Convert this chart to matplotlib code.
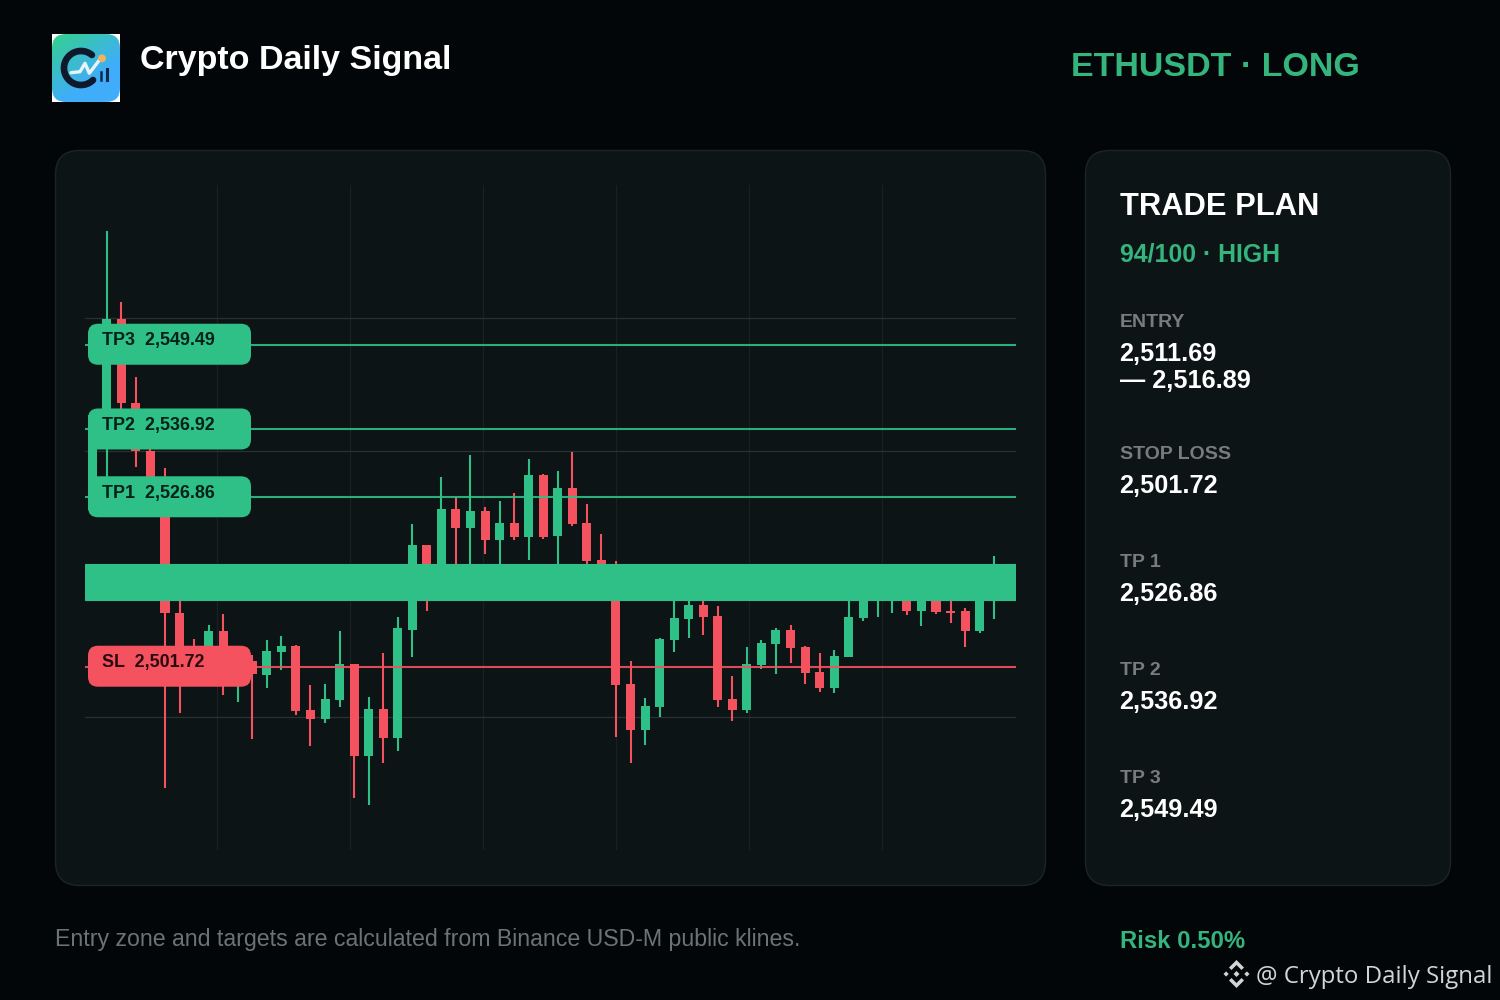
import numpy as np
import matplotlib
matplotlib.use("Agg")
import matplotlib.pyplot as plt
from matplotlib.patches import FancyBboxPatch, Polygon, Circle, Rectangle

plt.rcParams['font.family'] = ['Liberation Sans', 'DejaVu Sans']

# candles
opens = [2525.01, 2537.62, 2553.35, 2540.88, 2533.76, 2527.98, 2509.73, 2504.24, 2503.50, 2507.06,
         2500.53, 2502.61, 2500.53, 2503.95, 2504.84, 2495.34, 2494.01, 2496.82, 2502.17, 2488.52,
         2495.49, 2491.19, 2507.21, 2519.82, 2515.37, 2525.16, 2522.34, 2524.86, 2520.56, 2523.08,
         2521.01, 2530.20, 2521.15, 2528.27, 2523.08, 2517.59, 2514.63, 2499.20, 2492.37, 2495.79,
         2505.73, 2508.84, 2510.92, 2509.29, 2496.97, 2495.34, 2502.02, 2505.13, 2507.21, 2504.69,
         2500.98, 2498.60, 2503.20, 2508.99, 2512.40, 2512.85, 2513.14, 2510.03, 2513.88, 2510.03,
         2510.03, 2507.06, 2513.14]
highs = [2539.55, 2566.40, 2555.87, 2544.74, 2534.65, 2531.24, 2513.14, 2505.87, 2507.95, 2509.58,
         2504.24, 2503.50, 2505.73, 2506.32, 2504.98, 2499.05, 2499.20, 2507.06, 2502.17, 2497.27,
         2503.80, 2509.14, 2522.93, 2519.82, 2529.91, 2526.94, 2533.17, 2525.46, 2526.35, 2527.53,
         2532.58, 2530.35, 2530.80, 2533.62, 2525.90, 2521.45, 2517.45, 2502.61, 2497.12, 2506.02,
         2513.14, 2511.96, 2512.25, 2510.77, 2500.38, 2504.69, 2505.73, 2507.51, 2507.95, 2504.84,
         2503.80, 2504.24, 2513.14, 2514.63, 2515.81, 2515.37, 2513.88, 2514.92, 2514.63, 2513.14,
         2510.47, 2513.88, 2518.19]
lows = [2524.71, 2526.49, 2538.36, 2531.39, 2525.01, 2483.77, 2494.90, 2499.79, 2502.02, 2497.57,
        2496.53, 2491.04, 2498.60, 2501.27, 2494.60, 2490.00, 2493.41, 2495.79, 2482.29, 2481.25,
        2487.48, 2489.26, 2503.20, 2510.03, 2513.14, 2516.11, 2516.41, 2518.48, 2516.70, 2520.56,
        2517.59, 2520.71, 2516.11, 2522.64, 2517.00, 2515.81, 2491.34, 2487.48, 2490.15, 2494.30,
        2503.95, 2506.02, 2506.47, 2495.79, 2493.71, 2494.90, 2501.42, 2500.68, 2502.31, 2499.20,
        2498.01, 2497.86, 2503.20, 2508.54, 2509.14, 2509.73, 2509.43, 2507.80, 2509.58, 2508.25,
        2504.69, 2506.76, 2508.84]
closes = [2539.10, 2553.35, 2540.88, 2533.76, 2527.98, 2509.73, 2502.76, 2502.02, 2507.06, 2502.02,
          2503.50, 2500.68, 2504.09, 2504.84, 2495.19, 2494.01, 2496.97, 2502.17, 2488.52, 2495.49,
          2491.19, 2507.51, 2519.82, 2513.14, 2525.16, 2522.34, 2524.86, 2520.56, 2523.08, 2521.01,
          2530.20, 2521.01, 2528.27, 2522.93, 2517.45, 2516.41, 2499.05, 2492.37, 2495.93, 2505.87,
          2508.99, 2510.92, 2509.14, 2496.82, 2495.34, 2502.17, 2505.28, 2507.21, 2504.54, 2500.83,
          2498.60, 2503.35, 2509.14, 2513.88, 2514.63, 2514.33, 2510.03, 2513.88, 2509.88, 2509.73,
          2507.06, 2513.14, 2516.11]

entry_low = 2511.69
entry_high = 2516.89
stop_loss = 2501.72
tp1 = 2526.86
tp2 = 2536.92
tp3 = 2549.49
price_grid = [2553.5, 2533.8, 2514.0, 2494.3]
time_grid = [8.60, 17.74, 26.88, 36.02, 45.14, 54.28]
n_slots = 64

plan_labels = ["ENTRY", "STOP LOSS", "TP 1", "TP 2", "TP 3"]
plan_values = ["2,511.69\n— 2,516.89", "2,501.72", "2,526.86", "2,536.92", "2,549.49"]

BG = "#030608"
PANEL = "#0d1415"
EDGE = "#1c2526"
GREEN = "#2ec086"
TEXT_GREEN = "#35b57e"
RED = "#f4525f"
GREY = "#777c7c"

fig = plt.figure(figsize=(15, 10), dpi=100, facecolor=BG)

# pixel-coordinate layer for panels and text
bg = fig.add_axes([0, 0, 1, 1], zorder=0)
top = fig.add_axes([0, 0, 1, 1], zorder=2)
for a in (bg, top):
    a.set_xlim(0, 1500)
    a.set_ylim(1000, 0)
    a.axis("off")
    a.patch.set_alpha(0)


def rounded(a, x0, y0, x1, y1, r, color, edge="none", lw=0, z=1):
    p = FancyBboxPatch((x0 + r, y0 + r), x1 - x0 - 2 * r, y1 - y0 - 2 * r,
                       boxstyle="round,pad=%f,rounding_size=%f" % (r, r),
                       facecolor=color, edgecolor=edge, linewidth=lw, zorder=z)
    a.add_patch(p)
    return p


rounded(bg, 55.5, 150.5, 1045.5, 885.5, 24, PANEL, EDGE, 1.0)
rounded(bg, 1085.5, 150.5, 1450.5, 885.5, 24, PANEL, EDGE, 1.0)

# chart
CH_L, CH_R, CH_T, CH_B = 85, 1016, 185, 850
y_max = 2573.19
y_min = 2474.53
ax = fig.add_axes([CH_L / 1500, 1 - CH_B / 1000, (CH_R - CH_L) / 1500, (CH_B - CH_T) / 1000], zorder=1)
ax.patch.set_alpha(0)
ax.set_xlim(-0.5, n_slots - 0.5)
ax.set_ylim(y_min, y_max)
ax.axis("off")

for t in time_grid:
    ax.axvline(t, color="#192122", lw=0.9, zorder=1)
for p in price_grid:
    ax.axhline(p, color="#2a3132", lw=0.9, zorder=1)

for i in range(len(opens)):
    c = GREEN if closes[i] >= opens[i] else RED
    ax.vlines(i, lows[i], highs[i], color=c, lw=1.5, zorder=2)
    ax.bar(i, abs(closes[i] - opens[i]), bottom=min(opens[i], closes[i]), width=0.62, color=c, zorder=3)

ax.axhspan(entry_low, entry_high, facecolor=GREEN, edgecolor=GREEN, lw=0.8, zorder=4)
for level, c in [(tp3, GREEN), (tp2, GREEN), (tp1, GREEN), (stop_loss, RED)]:
    ax.axhline(level, color=c, lw=1.5, alpha=0.9, zorder=5)


def price_y(p):
    return CH_T + (y_max - p) / (y_max - y_min) * (CH_B - CH_T)


# level tags
for name, level, c, tc in [("TP3", tp3, GREEN, "#06201a"), ("TP2", tp2, GREEN, "#06201a"),
                           ("TP1", tp1, GREEN, "#06201a"), ("SL", stop_loss, RED, "#2a0a10")]:
    y = price_y(level)
    rounded(top, 88, y - 21, 251, y + 20, 10, c, z=3)
    top.text(102, y - 4, "%s  %s" % (name, format(level, ",.2f")), color=tc, fontsize=12.85,
             fontweight="bold", va="center", ha="left", zorder=4)

# header
top.text(140, 60.5, "Crypto Daily Signal", color="white", fontsize=24.45, fontweight="bold", va="center")
top.text(1071, 67, "ETHUSDT · LONG", color=TEXT_GREEN, fontsize=24.5, fontweight="bold", va="center")

# logo
top.add_patch(Rectangle((52, 34), 68, 68, facecolor="white", zorder=1))
xx, yy = np.meshgrid(np.linspace(0, 1, 68), np.linspace(0, 1, 68))
mix = np.clip((xx * 0.7 + yy) / 1.1, 0, 1)[..., None]
grad = (1 - mix) * np.array([0.2, 0.82, 0.55]) + mix * np.array([0.25, 0.68, 0.98])
im = top.imshow(grad, extent=(52, 120, 102, 34), zorder=2, aspect="auto")
clip = rounded(top, 52, 34, 120, 102, 14, "none", z=2)
im.set_clip_path(clip)
top.set_xlim(0, 1500)
top.set_ylim(1000, 0)
t = np.radians(np.linspace(50, 315, 60))
top.plot(81 + 17 * np.cos(t), 68 - 17 * np.sin(t), color="#0e1a2c", lw=4.8, zorder=3, solid_capstyle="round")
top.plot([71, 80, 85, 89.3, 100.7], [72.7, 71.7, 63.3, 73.3, 58.3], color="#e8f4f8", lw=2.4, zorder=4,
         solid_joinstyle="round", solid_capstyle="round")
top.add_patch(Circle((102, 58.3), 3.2, color="#f2b45a", zorder=5))
top.plot([100.7, 100.7], [72, 80], color="#12284a", lw=1.8, zorder=3)
top.plot([106.7, 106.7], [69, 80], color="#12284a", lw=2.2, zorder=3)

# trade plan panel
top.text(1120, 207, "TRADE PLAN", color="white", fontsize=22.2, fontweight="bold", va="center")
top.text(1120, 254, "94/100 · HIGH", color=TEXT_GREEN, fontsize=17.9, fontweight="bold", va="center")
label_y = [322.5, 454.5, 562.5, 670.5, 778.5]
for lab, val, y in zip(plan_labels, plan_values, label_y):
    top.text(1120, y, lab, color=GREY, fontsize=14, fontweight="bold", va="center")
    for j, line in enumerate(val.split("\n")):
        top.text(1119.5, y + 31.5 + j * 27, line, color="white", fontsize=18.15, fontweight="bold", va="center")

# footer
top.text(55, 939.5, "Entry zone and targets are calculated from Binance USD-M public klines.",
         color="#6d7373", fontsize=16.7, va="center")
top.text(1120, 941, "Risk 0.50%", color=TEXT_GREEN, fontsize=17.2, fontweight="bold", va="center")

# watermark
top.text(1256, 977, "@ Crypto Daily Signal", color="#d4d4d4", fontsize=17.3, va="center",
         family=["Open Sans", "DejaVu Sans"])
cx, cy = 1236.5, 974
icon = "#d4d4d4"
top.add_patch(Polygon([(cx, cy - 3), (cx + 3, cy), (cx, cy + 3), (cx - 3, cy)], color=icon, lw=0))
top.add_patch(Polygon([(cx - 13, cy), (cx - 10.4, cy - 2.6), (cx - 7.8, cy), (cx - 10.4, cy + 2.6)], color=icon, lw=0))
top.add_patch(Polygon([(cx + 13, cy), (cx + 10.4, cy - 2.6), (cx + 7.8, cy), (cx + 10.4, cy + 2.6)], color=icon, lw=0))
top.add_patch(Polygon([(cx, cy - 14), (cx + 7.5, cy - 6.5), (cx + 5, cy - 4), (cx, cy - 9), (cx - 5, cy - 4), (cx - 7.5, cy - 6.5)], color=icon, lw=0))
top.add_patch(Polygon([(cx, cy + 14), (cx + 7.5, cy + 6.5), (cx + 5, cy + 4), (cx, cy + 9), (cx - 5, cy + 4), (cx - 7.5, cy + 6.5)], color=icon, lw=0))

fig.savefig("out.png", dpi=100, facecolor=BG)
